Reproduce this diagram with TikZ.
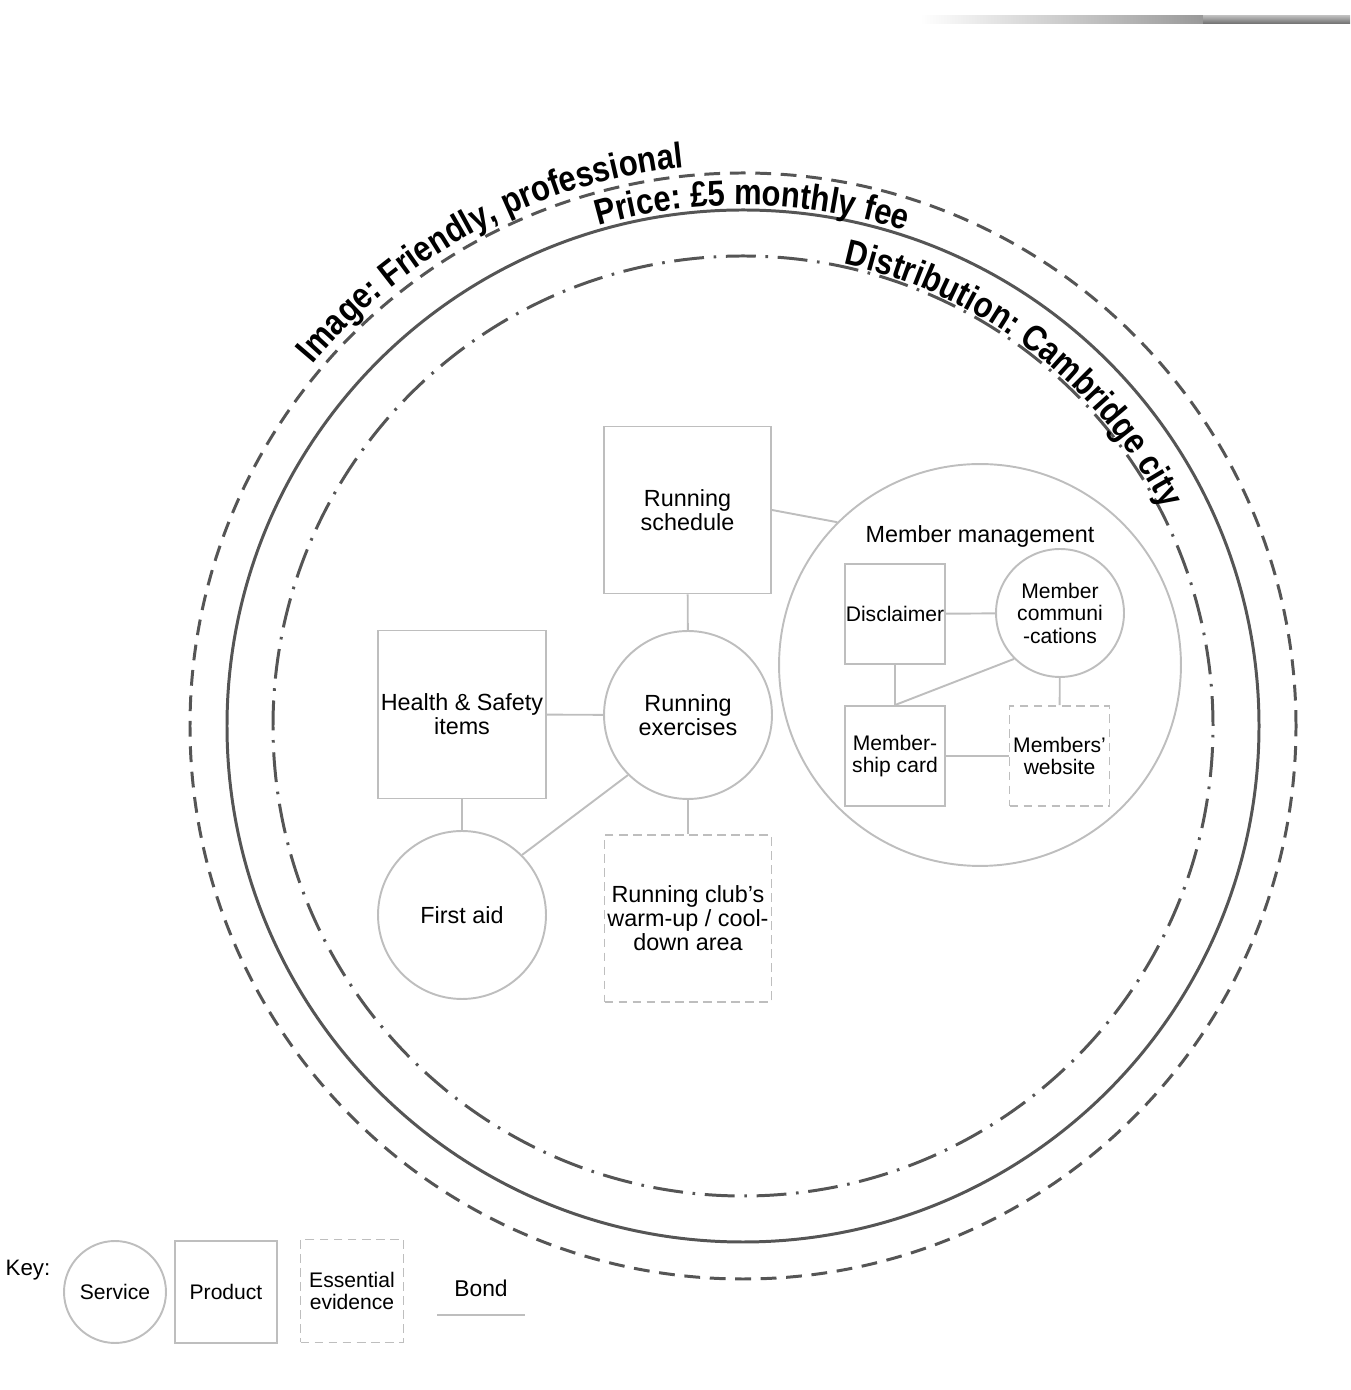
\documentclass[tikz,border=0pt]{standalone}
\usepackage{fontspec}
\setmainfont{Liberation Sans}
\newfontfamily\ringfont[FakeStretch=0.86]{Liberation Sans Bold}
\usepackage{tikz}
\usetikzlibrary{positioning,decorations.text}
\definecolor{mlgray}{RGB}{190,190,190}
\definecolor{mldark}{RGB}{85,85,85}
\tikzset{
  service/.style={draw=mlgray, circle, line width=1.1pt, minimum size=#1, inner sep=0pt,
                  align=center, font=\fontsize{13.3}{13.6}\selectfont},
  product/.style={draw=mlgray, rectangle, line width=1.1pt, minimum size=#1, inner sep=0pt,
                  align=center, font=\fontsize{13.3}{13.6}\selectfont},
  evidence/.style={product=#1, dash pattern=on 5pt off 3pt},
  bond/.style={draw=mlgray, line width=1.1pt},
  ring/.style={draw=mldark, line width=1.7pt},
  arctext/.style={decorate, decoration={text along path, text align=center,
                  text={|\ringfont\fontsize{20.5}{20.5}\selectfont|#1}}},
  smalltext/.style={font=\fontsize{12}{12.8}\selectfont},
}

\begin{document}
\begin{tikzpicture}[x=0.02cm, y=0.02cm]
\useasboundingbox (0,0) rectangle (1350,1390);

% fading bar top right
\shade[left color=white, right color=gray!80] (920,1366) rectangle (1203,1374);
\shade[top color=gray!55, bottom color=gray!85!black] (1203,1366) rectangle (1350,1374);

% rings
\coordinate (c) at (743,664);
\draw[ring, dash pattern=on 9pt off 5.5pt] (c) circle[radius=553];
\draw[ring] (c) circle[radius=516];
\draw[ring, dash pattern=on 17pt off 5.5pt on 1.5pt off 5.5pt] (c) circle[radius=470];

% ring labels
\path[arctext={Image: Friendly, professional}] (c) ++(152:562) arc[start angle=152, end angle=84, radius=562];
\path[arctext={Price: £5 monthly fee}] (c) ++(122:521) arc[start angle=122, end angle=56, radius=521];
\path[arctext={Distribution: Cambridge city}] (c) ++(88:473) arc[start angle=88, end angle=17, radius=473];

% core
\node[product=3.34cm] (sched) at (687.5,880) {Running\\schedule};
\node[service=3.36cm] (exer) at (688,675) {Running\\exercises};
\node[product=3.36cm] (hs) at (462,675.5) {Health \& Safety\\items};
\node[service=3.36cm] (aid) at (462,475) {First aid};
\node[evidence=3.34cm] (warm) at (688,471.5) {Running club’s\\warm-up / cool-\\down area};

\draw[bond] (sched) -- (exer);
\draw[bond] (hs) -- (exer);
\draw[bond] (hs) -- (aid);
\draw[bond] (aid.north east) -- (exer.south west);
\draw[bond] (exer) -- (warm);

% member management
\node[service=8.04cm] (mm) at (980,725) {};
\node[font=\fontsize{13.3}{13.6}\selectfont] (mmlabel) at (980,854) {Member management};
\node[product=2cm, smalltext] (disc) at (895,776) {Disclaimer};
\node[service=2.56cm, smalltext] (comm) at (1060,777) {Member\\communi\\-cations};
\node[product=2cm, smalltext] (card) at (895,634) {Member-\\ship card};
\node[evidence=2cm, smalltext] (web) at (1059.5,634) {Members’\\website};

\draw[bond] (sched.east) -- (mm.north west);
\draw[bond] (disc) -- (comm);
\draw[bond] (disc) -- (card);
\draw[bond] (card.north) -- (comm.south west);
\draw[bond] (comm) -- (web);
\draw[bond] (card) -- (web);

% key
\node[font=\fontsize{12.7}{13}\selectfont] (key) at (28,120) {Key:};
\node[service=2.04cm, smalltext] (kserv) at (115,98) {Service};
\node[product=2.04cm, smalltext] (kprod) at (226,98) {Product};
\node[evidence=2.06cm, smalltext] (kevid) at (352,99) {Essential\\evidence};
\node[font=\fontsize{13}{13}\selectfont] (kbond) at (481,102) {Bond};
\coordinate (kb1) at (437,75);
\coordinate (kb2) at (525,75);
\draw[bond] (kb1) -- (kb2);

\end{tikzpicture}
\end{document}
